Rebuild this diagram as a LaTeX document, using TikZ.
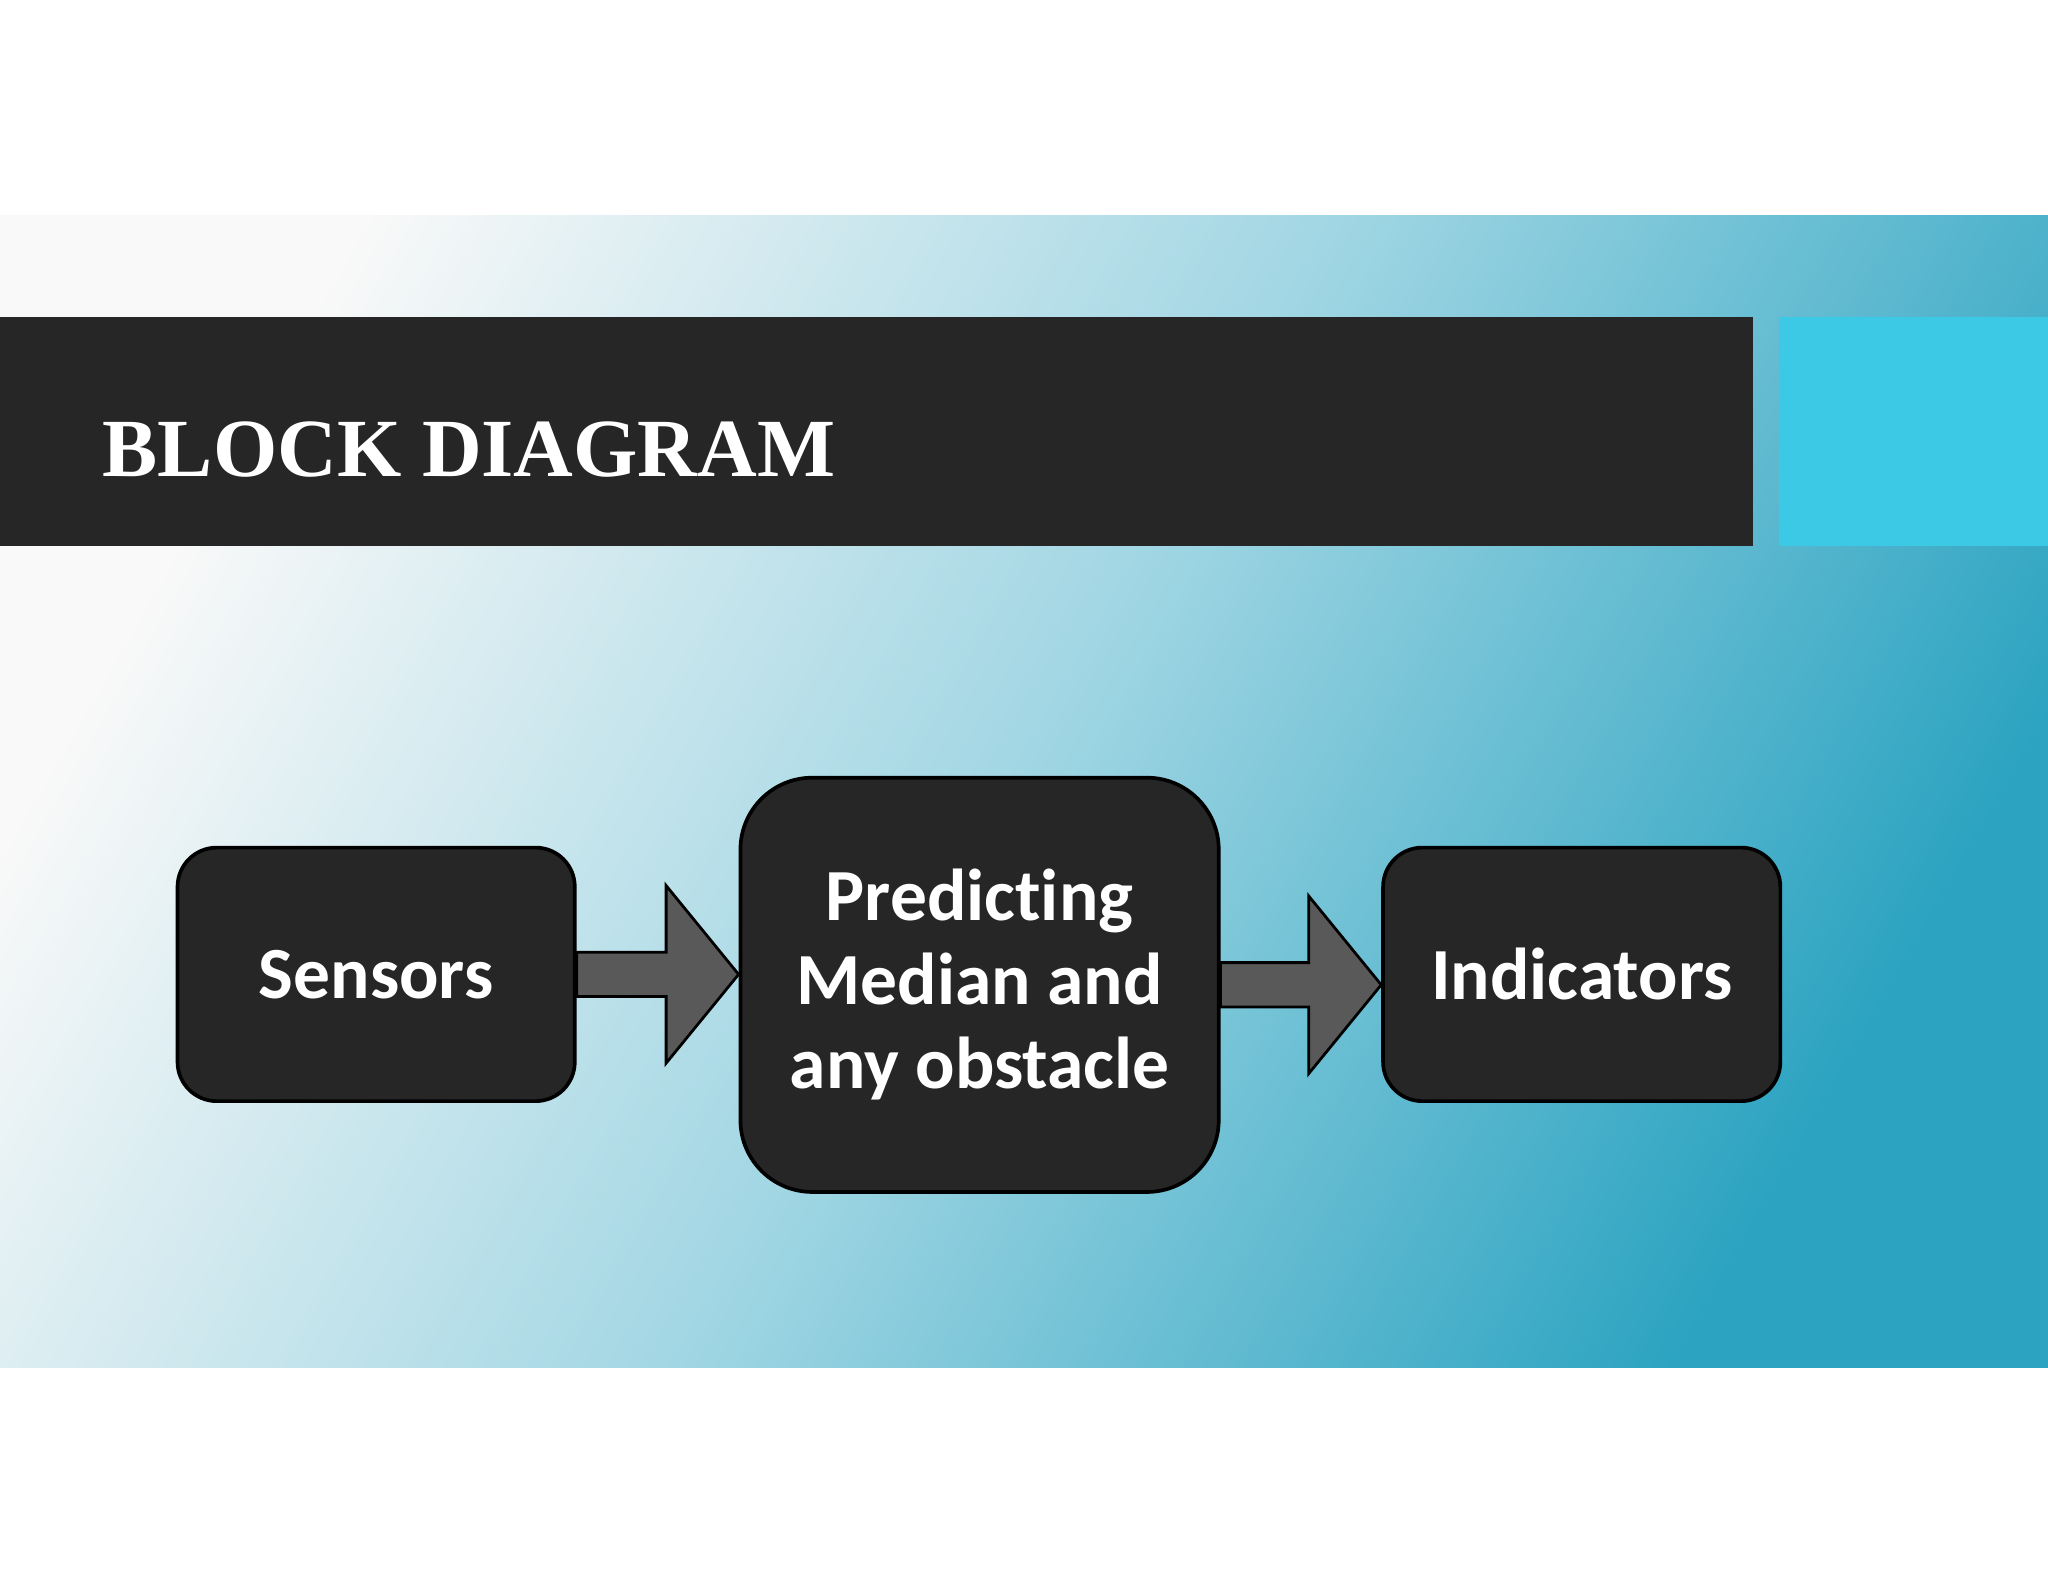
\documentclass[tikz,border=0pt]{standalone}
\usepackage{fontspec}
\setmainfont{Carlito}[RawFeature=-liga]
\newfontfamily\titlefont{Liberation Serif}
\usetikzlibrary{calc}
\definecolor{boxgray}{HTML}{262626}
\definecolor{arrowgray}{HTML}{595959}
\definecolor{tealbg}{HTML}{2BA3C1}
\definecolor{cyanbar}{HTML}{3CC9E6}
\tikzset{
  block/.style={rectangle, draw=black, fill=boxgray, text=white, align=center, font=\bfseries\fontsize{16}{18.3}\selectfont, line width=0.8pt},
  fatarrow/.style={fill=arrowgray, draw=black, line width=0.6pt}
}
\begin{document}
\begin{tikzpicture}[x=0.01cm,y=-0.01cm]
  \useasboundingbox (0,0) rectangle (1568,1211);
  \fill[white] (0,0) rectangle (1568,1211);
  % background band
  \shade[left color=white!95!gray, right color=tealbg, middle color=tealbg!45, shading angle=60] (0,165) rectangle (1568,1047);
  % title bar
  \fill[boxgray] (0,243) rectangle (1342,418);
  \fill[cyanbar] (1362,243) rectangle (1568,418);
  \node (title) [anchor=west, inner sep=0pt, text=white, font=\titlefont\bfseries\fontsize{18}{22}\selectfont] at (78,344) {BLOCK DIAGRAM};
  % blocks
  \node (sensors) [block, minimum width=3.04cm, minimum height=1.94cm, rounded corners=0.3cm] at (288,746) {Sensors};
  \node (predict) [block, minimum width=3.66cm, minimum height=3.17cm, rounded corners=0.55cm] at (750,754) {Predicting\\Median and\\any obstacle};
  \node (indicators) [block, minimum width=3.04cm, minimum height=1.94cm, rounded corners=0.3cm] at (1211,746) {Indicators};
  % arrows
  \draw[fatarrow] (sensors.east |- 0,729) -- (510,729) -- (510,678) -- (predict.west |- 0,746) -- (510,814) -- (510,763) -- (sensors.east |- 0,763) -- cycle;
  \draw[fatarrow] (predict.east |- 0,737) -- (1002,737) -- (1002,686) -- (indicators.west |- 0,754) -- (1002,822) -- (1002,771) -- (predict.east |- 0,771) -- cycle;
\end{tikzpicture}
\end{document}
